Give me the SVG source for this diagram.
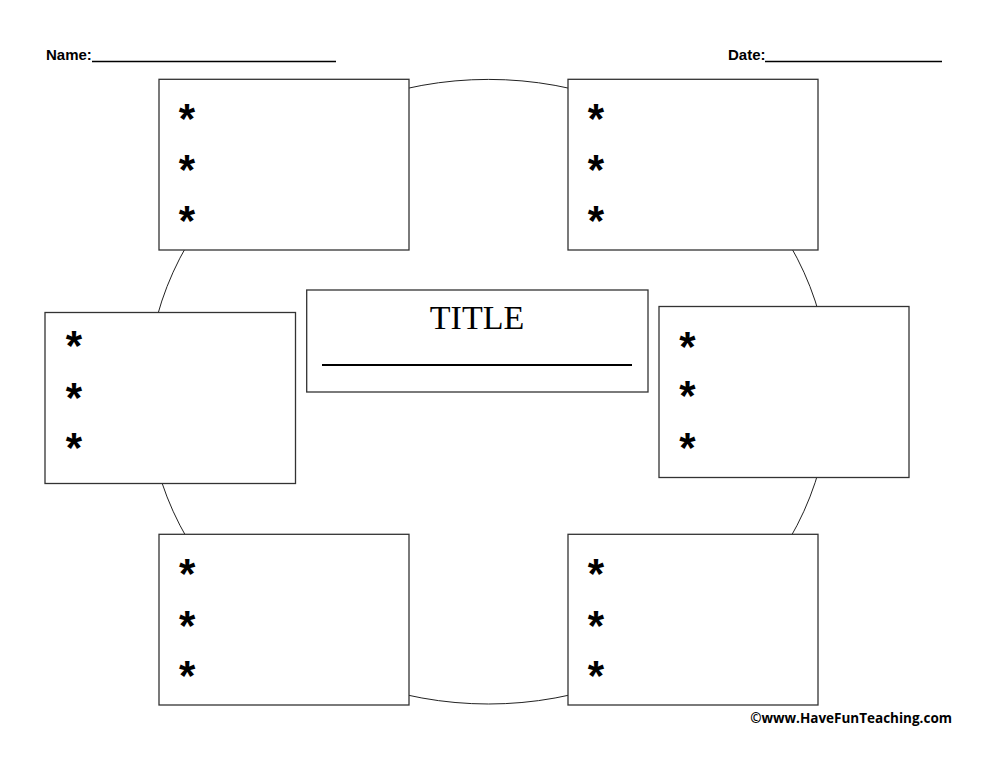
<svg xmlns="http://www.w3.org/2000/svg" width="1000" height="773" viewBox="0 0 1000 773">
<style>
.box{fill:#fff;stroke:#333;stroke-width:1.3}
.ast{font-family:"Liberation Sans",Arial,sans-serif;font-weight:bold;font-size:42px;text-anchor:middle;fill:#000}
.hdr{font-family:"Liberation Sans",Arial,sans-serif;font-weight:bold;font-size:15px;fill:#000}
.rule{stroke:#000;stroke-width:1.5}
</style>
<rect width="1000" height="773" fill="#fff"/>
<g id="header">
<text class="hdr" x="46" y="60">Name:</text>
<line class="rule" x1="92" y1="61.5" x2="336" y2="61.5"/>
<text class="hdr" x="728" y="60">Date:</text>
<line class="rule" x1="765" y1="61.5" x2="942" y2="61.5"/>
</g>
<g id="connectors">
<ellipse cx="488.5" cy="391.7" rx="341.4" ry="312.3" fill="none" stroke="#222" stroke-width="1"/>
</g>
<g id="box-tl">
<rect class="box" x="159" y="79.3" width="250" height="170.7"/>
<text class="ast" x="187" y="133">*</text>
<text class="ast" x="187" y="184">*</text>
<text class="ast" x="187" y="235">*</text>
</g>
<g id="box-tr">
<rect class="box" x="568" y="79.3" width="250" height="170.7"/>
<text class="ast" x="596" y="133">*</text>
<text class="ast" x="596" y="184">*</text>
<text class="ast" x="596" y="235">*</text>
</g>
<g id="box-ml">
<rect class="box" x="45" y="312.5" width="250.5" height="171"/>
<text class="ast" x="74" y="360">*</text>
<text class="ast" x="74" y="412">*</text>
<text class="ast" x="74" y="462">*</text>
</g>
<g id="box-mr">
<rect class="box" x="659" y="306.5" width="250" height="171"/>
<text class="ast" x="687.5" y="361">*</text>
<text class="ast" x="687.5" y="410">*</text>
<text class="ast" x="687.5" y="462">*</text>
</g>
<g id="box-bl">
<rect class="box" x="159" y="534.3" width="250" height="170.7"/>
<text class="ast" x="187.3" y="588">*</text>
<text class="ast" x="187.3" y="640">*</text>
<text class="ast" x="187.3" y="690">*</text>
</g>
<g id="box-br">
<rect class="box" x="568" y="534.3" width="250" height="170.7"/>
<text class="ast" x="596" y="588">*</text>
<text class="ast" x="596" y="640">*</text>
<text class="ast" x="596" y="690">*</text>
</g>
<g id="title">
<rect class="box" x="306.7" y="290" width="341.3" height="102"/>
<text x="477" y="329" font-family="Liberation Serif,'Times New Roman',serif" font-size="34" text-anchor="middle" fill="#000">TITLE</text>
<line x1="322" y1="365" x2="632" y2="365" stroke="#000" stroke-width="2.2"/>
</g>
<text x="952" y="723" font-family="'Open Sans',sans-serif" font-weight="bold" font-size="13.5" text-anchor="end" fill="#000">©www.HaveFunTeaching.com</text>
</svg>
